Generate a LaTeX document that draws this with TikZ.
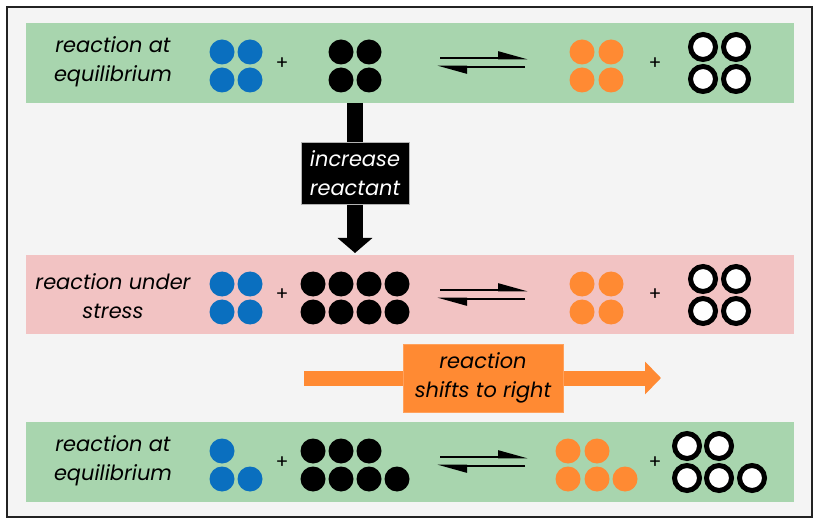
\documentclass[tikz,border=0pt]{standalone}
\usepackage{fontspec}
\setmainfont{Poppins}
\usetikzlibrary{arrows.meta}
\definecolor{bg}{HTML}{F4F4F4}
\definecolor{bandgreen}{HTML}{A8D5AE}
\definecolor{bandpink}{HTML}{F2C3C3}
\definecolor{molblue}{HTML}{0A6FBF}
\definecolor{molorange}{HTML}{FF8A33}
\definecolor{frameline}{HTML}{222222}
\begin{document}
\begin{tikzpicture}[x=1bp,y=-1bp,
  band/.style={draw=none,minimum width=768bp,inner sep=0pt},
  lbl/.style={font=\fontsize{21}{29}\selectfont\itshape,align=center,inner sep=0pt},
  plussign/.style={font=\fontsize{19}{19}\selectfont,inner sep=0pt},
  mol/.style={circle,minimum size=25bp,inner sep=0pt,draw=none},
  bluemol/.style={mol,fill=molblue},
  blackmol/.style={mol,fill=black},
  orangemol/.style={mol,fill=molorange},
  ringmol/.style={circle,minimum size=25bp,inner sep=0pt,draw=black,line width=5bp,fill=white},
  eqline/.style={line width=2.6bp,-{Triangle[left,width=13bp,length=25bp]}},
]
\useasboundingbox (0,0) rectangle (820,525);
\node[draw=frameline,line width=2bp,fill=bg,minimum width=805bp,minimum height=510bp,inner sep=0pt] (frame) at (409.5,262) {};

% bands
\node[band,fill=bandgreen,minimum height=80bp] (band1) at (410,63) {};
\node[band,fill=bandpink,minimum height=79bp] (band2) at (410,294.5) {};
\node[band,fill=bandgreen,minimum height=80bp] (band3) at (410,462) {};

% labels
\node[lbl] (lab1) at (113,62) {reaction at\\equilibrium};
\node[lbl] (lab2) at (113,296) {reaction under\\stress};
\node[lbl] (lab3) at (113,461) {reaction at\\equilibrium};

% ---------- row 1 ----------
\foreach \x/\n in {222/a,250/b} {
  \node[bluemol] (r1blue\n1) at (\x,52) {};
  \node[bluemol] (r1blue\n2) at (\x,80) {};
}
\node[plussign] (r1plusA) at (282,64) {+};
\foreach \x/\n in {341/a,369/b} {
  \node[blackmol] (r1black\n1) at (\x,52) {};
  \node[blackmol] (r1black\n2) at (\x,80) {};
}
\coordinate (r1eqA) at (440,58);
\coordinate (r1eqB) at (528,58);
\coordinate (r1eqC) at (525,67);
\coordinate (r1eqD) at (437,67);
\draw[eqline] (r1eqA) -- (r1eqB);
\draw[eqline] (r1eqC) -- (r1eqD);
\foreach \x/\n in {582/a,611/b} {
  \node[orangemol] (r1orange\n1) at (\x,52) {};
  \node[orangemol] (r1orange\n2) at (\x,80) {};
}
\node[plussign] (r1plusB) at (655,64) {+};
\foreach \x/\n in {703/a,736/b} {
  \node[ringmol] (r1ring\n1) at (\x,47) {};
  \node[ringmol] (r1ring\n2) at (\x,79) {};
}

% ---------- row 2 ----------
\foreach \x/\n in {222/a,250/b} {
  \node[bluemol] (r2blue\n1) at (\x,284) {};
  \node[bluemol] (r2blue\n2) at (\x,312) {};
}
\node[plussign] (r2plusA) at (282,295) {+};
\foreach \x/\n in {313/a,341/b,369/c,397/d} {
  \node[blackmol] (r2black\n1) at (\x,284) {};
  \node[blackmol] (r2black\n2) at (\x,312) {};
}
\coordinate (r2eqA) at (440,290);
\coordinate (r2eqB) at (528,290);
\coordinate (r2eqC) at (525,299);
\coordinate (r2eqD) at (437,299);
\draw[eqline] (r2eqA) -- (r2eqB);
\draw[eqline] (r2eqC) -- (r2eqD);
\foreach \x/\n in {582/a,611/b} {
  \node[orangemol] (r2orange\n1) at (\x,284) {};
  \node[orangemol] (r2orange\n2) at (\x,312) {};
}
\node[plussign] (r2plusB) at (655,295) {+};
\foreach \x/\n in {703/a,736/b} {
  \node[ringmol] (r2ring\n1) at (\x,279) {};
  \node[ringmol] (r2ring\n2) at (\x,311) {};
}

% ---------- row 3 ----------
\node[bluemol] (r3blue1) at (222,451) {};
\node[bluemol] (r3blue2) at (222,479) {};
\node[bluemol] (r3blue3) at (250,479) {};
\node[plussign] (r3plusA) at (282,463) {+};
\foreach \x/\n in {313/a,341/b,369/c} {
  \node[blackmol] (r3black\n1) at (\x,451) {};
}
\foreach \x/\n in {313/a,341/b,369/c,397/d} {
  \node[blackmol] (r3black\n2) at (\x,479) {};
}
\coordinate (r3eqA) at (440,457);
\coordinate (r3eqB) at (528,457);
\coordinate (r3eqC) at (525,466);
\coordinate (r3eqD) at (437,466);
\draw[eqline] (r3eqA) -- (r3eqB);
\draw[eqline] (r3eqC) -- (r3eqD);
\foreach \x/\n in {568/a,597/b} {
  \node[orangemol] (r3orange\n1) at (\x,451) {};
}
\foreach \x/\n in {568/a,597/b,625/c} {
  \node[orangemol] (r3orange\n2) at (\x,479) {};
}
\node[plussign] (r3plusB) at (655,463) {+};
\foreach \x/\n in {687/a,719/b} {
  \node[ringmol] (r3ring\n1) at (\x,446) {};
}
\foreach \x/\n in {687/a,719/b,752/c} {
  \node[ringmol] (r3ring\n2) at (\x,478) {};
}

% ---------- black stress arrow ----------
\coordinate (blackstart) at (355,103);
\coordinate (blackend) at (355,253);
\draw[line width=16bp,-{Triangle[width=34bp,length=15bp]}] (blackstart) -- (blackend);
\node[fill=black,draw=gray!60,line width=0.5bp,minimum width=108bp,minimum height=62bp,inner sep=0pt,
  text=white,lbl] (stressbox) at (355,173) {increase\\reactant};

% ---------- orange shift arrow ----------
\coordinate (orangestart) at (304,378);
\coordinate (orangeend) at (661,378);
\draw[molorange,line width=15bp,-{Triangle[width=32bp,length=16bp]}] (orangestart) -- (orangeend);
\node[fill=molorange,draw=molorange!80!white,line width=0.8bp,minimum width=160bp,minimum height=68bp,inner sep=0pt,
  lbl] (shiftbox) at (483,378) {reaction\\shifts to right};
\end{tikzpicture}
\end{document}
